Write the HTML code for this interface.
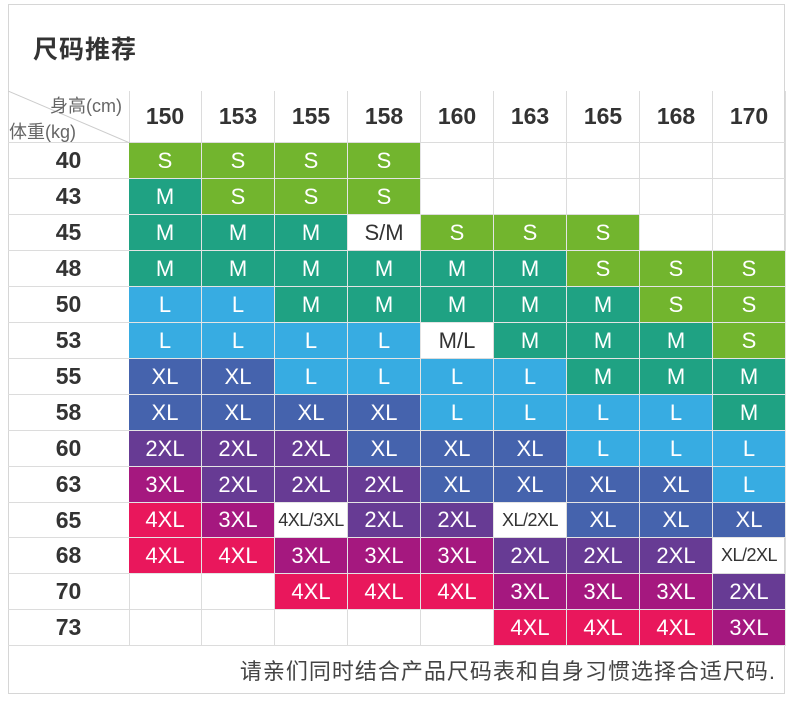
<!DOCTYPE html>
<html><head><meta charset="utf-8">
<style>
body{margin:0;width:790px;height:703px;background:#fff;font-family:"Liberation Sans","Noto Sans CJK SC",sans-serif;position:relative;overflow:hidden}
#frame{position:absolute;left:8px;top:4px;width:777px;height:690px;border:1px solid #d6d6d6;box-sizing:border-box}
#title{position:absolute;left:33px;top:30px;font-size:25px;font-weight:bold;color:#333;letter-spacing:1px}
.c{position:absolute;box-sizing:border-box;border-right:1px solid #dcdcdc;border-bottom:1px solid #dcdcdc;display:flex;align-items:center;justify-content:center;font-size:22px}
.hd{font-weight:bold;color:#333;font-size:23px}
.sz{color:#fff;font-weight:300}
#foot{position:absolute;right:14px;top:654px;font-size:22px;color:#444;letter-spacing:1px}
</style></head><body>
<div id="frame"></div>
<div id="title">尺码推荐</div>
<div id="grid"></div>
<svg style="position:absolute;left:8px;top:91px" width="122" height="52"><line x1="0" y1="0" x2="122" y2="52" stroke="#ccc" stroke-width="1"/></svg>
<div style="position:absolute;left:50px;top:92px;font-size:18px;color:#666">身高(cm)</div>
<div style="position:absolute;left:9px;top:118px;font-size:18px;color:#666">体重(kg)</div>
<div id="foot">请亲们同时结合产品尺码表和自身习惯选择合适尺码.</div>
<script>
const heights=["150","153","155","158","160","163","165","168","170"];
const weights=["40","43","45","48","50","53","55","58","60","63","65","68","70","73"];
const sizes=[
["S","S","S","S","","","","",""],
["M","S","S","S","","","","",""],
["M","M","M","S/M","S","S","S","",""],
["M","M","M","M","M","M","S","S","S"],
["L","L","M","M","M","M","M","S","S"],
["L","L","L","L","M/L","M","M","M","S"],
["XL","XL","L","L","L","L","M","M","M"],
["XL","XL","XL","XL","L","L","L","L","M"],
["2XL","2XL","2XL","XL","XL","XL","L","L","L"],
["3XL","2XL","2XL","2XL","XL","XL","XL","XL","L"],
["4XL","3XL","4XL/3XL","2XL","2XL","XL/2XL","XL","XL","XL"],
["4XL","4XL","3XL","3XL","3XL","2XL","2XL","2XL","XL/2XL"],
["","","4XL","4XL","4XL","3XL","3XL","3XL","2XL"],
["","","","","","4XL","4XL","4XL","3XL"]];
const colors={S:"#72b52e",M:"#1fa283",L:"#37ace2",XL:"#4563ad","2XL":"#673b94","3XL":"#a5187f","4XL":"#e9175c"};
const g=document.getElementById('grid');
const x0=129,cw=73,hy=91,hh=52,y0=143,rh=35.95;
function cell(x,y,w,h,txt,cls,bg,name){
 const d=document.createElement('div');
 d.className='c '+cls;
 d.style.left=x+'px';d.style.top=y+'px';d.style.width=w+'px';d.style.height=h+'px';
 if(bg)d.style.background=bg;
 d.textContent=txt;
 
 
 g.appendChild(d);return d;
}
cell(8,hy,x0-8+1,hh,"","hd",null,"corner-header");
heights.forEach((h,i)=>cell(x0+i*cw,hy,i==heights.length-1?786-(x0+i*cw):cw,hh,h,"hd",null,"height-header-"+h));
weights.forEach((w,r)=>{
 const y=Math.round(y0+r*rh),yh=Math.round(y0+(r+1)*rh)-y;
 cell(8,y,x0-8+1,yh,w,"hd",null,"weight-label-"+w);
 sizes[r].forEach((s,i)=>{
  const bg=colors[s]||null;
  const d=cell(x0+i*cw,y,i==heights.length-1?786-(x0+i*cw):cw,yh,s,bg?"sz":"",bg,"size-cell-"+w+"-"+heights[i]);
  if(bg)d.style.borderColor="#e4e4e4";
  if(!bg&&s){d.style.color="#333";if(s.length>5){d.style.fontSize="18px";d.style.letterSpacing="-0.5px";}}
 });
});
</script>
</body></html>
